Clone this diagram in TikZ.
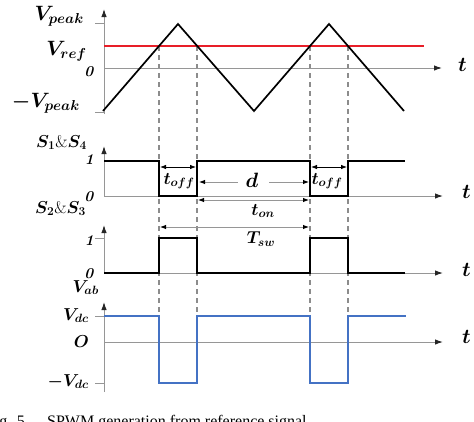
\documentclass[tikz,border=0pt]{standalone}
\usepackage{bm}
\usepackage{fontspec}
\newfontfamily\capfont{Liberation Serif}
\usetikzlibrary{arrows.meta}
\definecolor{refred}{RGB}{232,30,40}
\definecolor{vblue}{RGB}{68,114,196}
\definecolor{axgray}{RGB}{150,150,150}
\definecolor{dashgray}{RGB}{140,140,140}
\newcommand{\bi}[1]{\textbf{\textit{#1}}}
\begin{document}
\begin{tikzpicture}[x=1pt,y=-1pt,
  axis/.style={draw=axgray, line width=1pt, -{Latex[length=8pt,width=5.5pt,color=black!85]}},
  tickm/.style={draw=axgray, line width=1pt},
  sig/.style={draw=black, line width=1.9pt, line join=miter},
  refline/.style={draw=refred, line width=1.8pt},
  vab/.style={draw=vblue, line width=1.9pt, line join=miter},
  guide/.style={draw=dashgray, line width=1.4pt, dash pattern=on 5pt off 4pt},
  dimg/.style={draw=axgray, line width=0.9pt},
  tipl/.style={{Latex[length=6pt,width=4.5pt,color=black]}-},
  tipr/.style={-{Latex[length=6pt,width=4.5pt,color=black]}},
  tipb/.style={{Latex[length=6pt,width=4.5pt,color=black]}-{Latex[length=6pt,width=4.5pt,color=black]}},
  big/.style={inner sep=0pt, font=\fontsize{20}{22}\selectfont},
  mid/.style={inner sep=0pt, font=\fontsize{17}{19}\selectfont},
  small/.style={inner sep=0pt, font=\fontsize{15}{17}\selectfont},
  rlab/.style={anchor=base east},
  tlab/.style={big, anchor=base west},
]
\useasboundingbox (0,0) rectangle (474,421);

% ---- key instants
\coordinate (a1) at (159,46);
\coordinate (a2) at (197,46);
\coordinate (a3) at (310,46);
\coordinate (a4) at (348,46);
\coordinate (b1) at (159,316);
\coordinate (b2) at (197,316);
\coordinate (b3) at (310,316);
\coordinate (b4) at (348,316);

% ---- dashed guides
\draw[guide] (a1) -- (b1);
\draw[guide] (a2) -- (b2);
\draw[guide] (a3) -- (b3);
\draw[guide] (a4) -- (b4);

% ================= carrier / reference =================
\coordinate (o1) at (104,68);
\coordinate (y1top) at (104,9);
\coordinate (y1bot) at (104,114);
\coordinate (x1end) at (442,68);
\draw[axis] (y1bot) -- (y1top);
\draw[axis] (o1) -- (x1end);
\coordinate (tk1a) at (95,23); \coordinate (tk1b) at (104,23);
\coordinate (tk2a) at (95,112); \coordinate (tk2b) at (104,112);
\draw[tickm] (tk1a) -- (tk1b);
\draw[tickm] (tk2a) -- (tk2b);
\coordinate (r0) at (104,46); \coordinate (r1) at (424,46);
\draw[refline] (r0) -- (r1);
\coordinate (c0) at (103,111);
\coordinate (c1) at (178,24);
\coordinate (c2) at (254,111);
\coordinate (c3) at (329,24);
\coordinate (c4) at (404,111);
\draw[sig, line width=1.7pt] (c0) -- (c1) -- (c2) -- (c3) -- (c4);

\node[big, rlab] (lvp) at (84,20) {$\bm{V_{peak}}$};
\node[big, rlab] (lvr) at (87,55) {$\bm{V_{ref}}$};
\node[small, rlab] (l0a) at (94,76) {\bi{0}};
\node[big, rlab] (lvn) at (80,107) {$\bm{-V_{peak}}$};
\node[tlab] (t1) at (458,71) {$\bm{t}$};

% ================= S1 & S4 =================
\coordinate (o2) at (104,196);
\coordinate (y2top) at (104,146);
\coordinate (x2end) at (443,196);
\draw[axis] (o2) -- (y2top);
\draw[axis] (o2) -- (x2end);
\coordinate (s0) at (104,161);
\coordinate (s1) at (159,161);
\coordinate (s2) at (159,196);
\coordinate (s3) at (197,196);
\coordinate (s4) at (197,161);
\coordinate (s5) at (310,161);
\coordinate (s6) at (310,196);
\coordinate (s7) at (348,196);
\coordinate (s8) at (348,161);
\coordinate (s9) at (405,161);
\draw[sig] (s0) -- (s1) -- (s2) -- (s3) -- (s4) -- (s5) -- (s6) -- (s7) -- (s8) -- (s9);

\node[mid, rlab] (ls14) at (87,147) {$\bm{S_1\&S_4}$};
\node[small, rlab] (l1b) at (94,164) {\bi{1}};
\node[small, rlab] (l0b) at (94,201) {\bi{0}};
\node[tlab] (t2) at (462,198) {$\bm{t}$};

% toff arrows
\coordinate (f1) at (160,167); \coordinate (f2) at (196,167);
\coordinate (f3) at (311,167); \coordinate (f4) at (347,167);
\draw[draw=black, line width=0.8pt, tipb] (f1) -- (f2);
\draw[draw=black, line width=0.8pt, tipb] (f3) -- (f4);
\node[mid] (toff1) at (179,181) {$\bm{t_{off}}$};
\node[mid] (toff2) at (327,181) {$\bm{t_{off}}$};

% d arrows
\coordinate (d1) at (199,182); \coordinate (d2) at (238,182);
\coordinate (d3) at (269,182); \coordinate (d4) at (309,182);
\draw[dimg, tipl] (d1) -- (d2);
\draw[dimg, tipr] (d3) -- (d4);
\node[big] (dl) at (252,180) {$\bm{d}$};

% ton arrow
\coordinate (n1) at (198,200); \coordinate (n2) at (309,200);
\draw[dimg, tipb] (n1) -- (n2);
\node[mid] (ton) at (263,211) {$\bm{t_{on}}$};

% Tsw arrow
\coordinate (w1) at (160,227); \coordinate (w2) at (309,227);
\draw[dimg, tipb] (w1) -- (w2);
\node[mid] (tsw) at (261,239) {$\bm{T_{sw}}$};

% ================= S2 & S3 =================
\coordinate (o3) at (104,273);
\coordinate (y3top) at (104,225);
\coordinate (x3end) at (443,273);
\draw[axis] (o3) -- (y3top);
\draw[axis] (o3) -- (x3end);
\coordinate (tk3a) at (95,238); \coordinate (tk3b) at (104,238);
\draw[tickm] (tk3a) -- (tk3b);
\coordinate (u0) at (104,273);
\coordinate (u1) at (159,273);
\coordinate (u2) at (159,238);
\coordinate (u3) at (197,238);
\coordinate (u4) at (197,273);
\coordinate (u5) at (310,273);
\coordinate (u6) at (310,238);
\coordinate (u7) at (348,238);
\coordinate (u8) at (348,273);
\coordinate (u9) at (405,273);
\draw[sig] (u0) -- (u1) -- (u2) -- (u3) -- (u4) -- (u5) -- (u6) -- (u7) -- (u8) -- (u9);

\node[mid, rlab] (ls23) at (86,213) {$\bm{S_2\&S_3}$};
\node[small, rlab] (l1c) at (94,245) {\bi{1}};
\node[small, rlab] (l0c) at (94,278) {\bi{0}};
\node[tlab] (t3) at (462,276) {$\bm{t}$};

% ================= Vab =================
\coordinate (o4) at (104,342);
\coordinate (y4top) at (104,302);
\coordinate (y4bot) at (104,392);
\coordinate (x4end) at (443,342);
\draw[axis] (y4bot) -- (y4top);
\draw[axis] (o4) -- (x4end);
\coordinate (tk4a) at (95,316); \coordinate (tk4b) at (104,316);
\coordinate (tk5a) at (95,383); \coordinate (tk5b) at (104,383);
\draw[tickm] (tk4a) -- (tk4b);
\draw[tickm] (tk5a) -- (tk5b);
\coordinate (v0) at (104,316);
\coordinate (v1) at (159,316);
\coordinate (v2) at (159,383);
\coordinate (v3) at (197,383);
\coordinate (v4) at (197,316);
\coordinate (v5) at (310,316);
\coordinate (v6) at (310,383);
\coordinate (v7) at (348,383);
\coordinate (v8) at (348,316);
\coordinate (v9) at (406,316);
\draw[vab] (v0) -- (v1) -- (v2) -- (v3) -- (v4) -- (v5) -- (v6) -- (v7) -- (v8) -- (v9);

\node[mid, rlab] (lvab) at (99,292) {$\bm{V_{ab}}$};
\node[mid, rlab] (lvdc) at (89,320) {$\bm{V_{dc}}$};
\node[mid, rlab] (l0d) at (89,347) {$\bm{O}$};
\node[mid, rlab] (lvdn) at (89,386) {$\bm{-V_{dc}}$};
\node[tlab] (t4) at (462,343) {$\bm{t}$};

% ================= caption (cut off, as in the source) =================
\node[inner sep=0pt, anchor=base east, font=\capfont\fontsize{16}{18}\selectfont] (capa) at (29,426) {Fig. 5.};
\node[inner sep=0pt, anchor=base west, font=\capfont\fontsize{16}{18}\selectfont] (capb) at (47,426) {SPWM generation from reference signal};
\end{tikzpicture}
\end{document}
